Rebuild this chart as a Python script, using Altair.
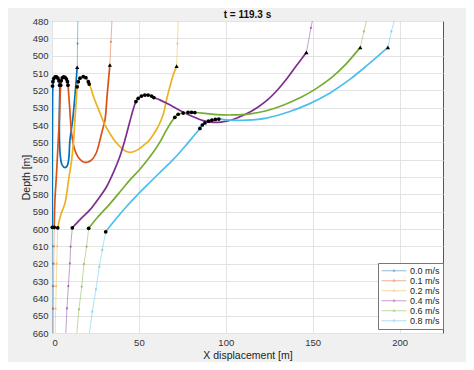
import altair as alt
import pandas as pd

series = ["0.0 m/s", "0.1 m/s", "0.2 m/s", "0.4 m/s", "0.6 m/s", "0.8 m/s"]
colors = ["#0072BD", "#D95319", "#EDB120", "#7E2F8E", "#77AC30", "#4DBEEE"]

# thin line: anchor (bottom) -> touchdown point
low_x = [
    [0.1, 0.1, 0.1, 0.2, 0.2, 0.2],
    [0.7, 0.8, 0.9, 1.0, 1.1, 1.3],
    [1.8, 2.1, 2.4, 2.7, 3.0, 3.3],
    [7.9, 8.6, 9.4, 10.3, 10.7, 11.7],
    [14.2, 15.5, 17.1, 18.4, 19.9, 21.1],
    [21.4, 23.2, 25.3, 27.2, 28.9, 30.9],
]
low_d = [
    [661, 646, 633, 620, 610, 599],
    [661, 646, 633, 620, 610, 599],
    [661, 646, 633, 620, 610, 599.3],
    [661, 645.8, 632.9, 619.8, 610.2, 599.3],
    [661, 646.4, 633.3, 620.2, 610.2, 599.6],
    [661, 647.7, 634.8, 621.8, 612.1, 601.6],
]

# thick line: touchdown -> floats -> sag -> hang-off
main_x = [
    [0.2, 0.2, 0.3, 0.5, 1.0, 1.8, 2.6, 3.4, 4.0, 4.4, 4.3, 4.3, 4.8, 5.8, 7.5, 8.8, 9.7, 10.3, 11.9, 13.3, 14.5],
    [1.3, 1.7, 2.5, 3.6, 4.2, 4.7, 5.0, 5.3, 5.9, 6.7, 7.5, 8.3, 8.9, 9.2, 9.6, 10.3, 11.3, 13.0, 15.0, 17.5, 20.3, 23.0, 25.5, 27.6, 29.0, 30.5, 31.8, 33.3],
    [3.3, 5.0, 7.5, 9.5, 11.3, 12.5, 13.2, 14.0, 14.5, 15.1, 16.1, 18.0, 19.5, 20.9, 21.4, 22.5, 24.0, 27.6, 30.0, 33.3, 36.0, 39.1, 42.0, 45.0, 48.0, 50.6, 53.0, 55.3, 58.0, 60.5, 62.0, 64.0, 66.0, 67.8, 69.8, 71.7],
    [11.7, 16.0, 21.8, 26.5, 31.4, 35.5, 39.1, 42.0, 44.8, 46.7, 48.3, 49.6, 51.5, 53.4, 55.3, 57.3, 58.6, 62.0, 66.0, 69.7, 75.0, 81.2, 87.0, 92.7, 98.0, 104.2, 111.0, 118.0, 124.0, 130.0, 135.0, 140.5, 146.4],
    [21.1, 26.0, 33.3, 40.0, 45.0, 50.6, 57.0, 62.0, 65.5, 68.5, 70.7, 72.6, 75.5, 78.3, 82.2, 88.0, 95.0, 104.2, 114.0, 123.4, 133.0, 143.0, 152.0, 161.0, 169.0, 177.4],
    [30.9, 36.5, 42.9, 48.5, 54.4, 62.0, 69.7, 76.0, 81.0, 85.1, 86.5, 88.0, 90.0, 92.0, 94.0, 96.0, 100.0, 105.0, 112.0, 123.4, 136.0, 148.0, 160.0, 171.0, 182.0, 193.3],
]
main_d = [
    [599, 560, 530, 518, 514, 512.2, 512.2, 513, 514.5, 517, 530, 548.7, 558, 563, 564.6, 563.5, 559, 549, 537, 522, 506.7],
    [599, 583, 570, 548.7, 537, 523, 517, 514.5, 512.8, 512.2, 512.5, 513.5, 515, 517, 522, 532, 545, 554, 558.5, 561, 561.5, 560, 556, 548.7, 543, 537, 522, 505.4],
    [599.3, 592, 585, 572, 560.2, 548, 537, 525, 518, 515, 513, 512.1, 512.7, 515, 516.4, 519, 524, 533, 539, 544.8, 549, 552.5, 554.8, 555.8, 555, 553.5, 551.5, 549.6, 546, 542, 539, 534, 525, 518, 511, 506],
    [599.3, 594.7, 589, 582.8, 575.6, 567, 558, 548.5, 538, 531, 526.5, 524.6, 523.3, 522.7, 522.7, 523.3, 524.2, 525.5, 527.5, 529.4, 532.3, 535.2, 537.5, 538.5, 538.2, 536.8, 534, 530, 525.5, 519.5, 513.5, 506, 498.1],
    [599.6, 593.5, 585.5, 577.5, 571.5, 565.5, 557.5, 550, 543.5, 538.5, 535.6, 533.8, 533.1, 532.7, 532.8, 533.3, 534, 534.2, 533.6, 531.8, 528.6, 524.2, 519, 512.5, 505, 495.2],
    [601.6, 594.5, 587, 581, 575, 567.5, 560, 553, 547, 542, 540, 538.8, 537.8, 537.2, 536.8, 536.6, 537, 537.3, 537.2, 536, 532.5, 527.8, 521.5, 514, 505, 495.2],
]

# black float markers on the buoyancy section
float_x = [
    [0.3, 0.5, 1.0, 1.8, 2.6, 3.4, 4.0, 4.4],
    [5.0, 5.3, 5.9, 6.7, 7.5, 8.3, 8.9, 9.2],
    [14.5, 15.1, 16.1, 18.0, 19.5, 20.9, 21.4],
    [48.3, 49.6, 51.5, 53.4, 55.3, 57.3, 58.6],
    [70.7, 72.6, 75.5, 78.3, 80.3, 82.2],
    [85.1, 86.5, 88.0, 90.0, 92.0, 94.0, 96.0],
]
float_d = [
    [517.5, 515, 513.2, 512.2, 512.2, 513, 514.5, 517],
    [517, 514.5, 512.8, 512.2, 512.5, 513.5, 515, 517],
    [518, 515, 513, 512.1, 512.7, 515, 516.4],
    [526.5, 524.6, 523.3, 522.7, 522.7, 523.3, 524.2],
    [535.6, 533.8, 533.1, 532.7, 532.7, 532.8],
    [542, 540, 538.8, 537.8, 537.2, 536.8, 536.6],
]

# thin line above the hang-off point
up_x = [
    [14.5, 14.7, 14.9],
    [33.3, 33.9, 34.6],
    [71.7, 72.2, 72.7],
    [146.4, 149.0, 150.2],
    [177.4, 179.5, 181.4],
    [193.3, 195.3, 197.4],
]
up_d = [
    [506.7, 493, 478],
    [505.4, 492, 478],
    [506, 493, 478],
    [498.1, 484, 478],
    [495.2, 486, 478],
    [495.2, 486, 478],
]

x_ticks = [0, 50, 100, 150, 200]
y_ticks = list(range(480, 661, 10))

rows = []
for i, s in enumerate(series):
    for k, (x, d) in enumerate(zip(low_x[i], low_d[i])):
        rows.append({"s": s, "part": "low", "k": k, "x": x, "d": d,
                     "tick": 0 < k < len(low_x[i]) - 1})
    for k, (x, d) in enumerate(zip(up_x[i], up_d[i])):
        rows.append({"s": s, "part": "up", "k": k, "x": x, "d": d,
                     "tick": 0 < k < len(up_x[i]) - 1})
    for k, (x, d) in enumerate(zip(main_x[i], main_d[i])):
        rows.append({"s": s, "part": "main", "k": k, "x": x, "d": d,
                     "tick": False})
    for k, (x, d) in enumerate(zip(float_x[i], float_d[i])):
        rows.append({"s": s, "part": "float", "k": k, "x": x, "d": d,
                     "tick": False})
    rows.append({"s": s, "part": "td", "k": 0, "x": main_x[i][0], "d": main_d[i][0], "tick": False})
    rows.append({"s": s, "part": "ho", "k": 0, "x": main_x[i][-1], "d": main_d[i][-1], "tick": False})

df = pd.DataFrame(rows)

font = "Liberation Sans"
xs = alt.X("x:Q", scale=alt.Scale(domain=[0, 225], nice=False, zero=False),
           axis=alt.Axis(values=x_ticks, title="X displacement [m]",
                         titlePadding=4, labelOverlap=False))
ys = alt.Y("d:Q", scale=alt.Scale(domain=[480, 660], reverse=True, nice=False, zero=False),
           axis=alt.Axis(values=y_ticks, title="Depth [m]",
                         titlePadding=1, labelOverlap=False))
cscale = alt.Scale(domain=series, range=colors)
col = alt.Color("s:N", scale=cscale,
                legend=alt.Legend(title=None, orient="none", legendX=326, legendY=242,
                                  symbolType="M-1,0L1,0M-0.08,0A0.08,0.08,0,1,1,0.08,0A0.08,0.08,0,1,1,-0.08,0",
                                  symbolSize=620, symbolStrokeWidth=1, symbolOpacity=0.45,
                                  clipHeight=9.5, rowPadding=0, labelFontSize=9,
                                  labelFont=font, labelColor="#222", labelOffset=3,
                                  strokeColor="#777", fillColor="white", padding=3))
col_nl = alt.Color("s:N", scale=cscale, legend=None)

base = alt.Chart(df)
thin = base.transform_filter(alt.FieldOneOfPredicate(field="part", oneOf=["low", "up"])).mark_line(
    strokeWidth=1, opacity=0.45, clip=True).encode(x=xs, y=ys, color=col, detail="part:N", order="k:Q")
ticks = base.transform_filter("datum.tick").mark_point(
    filled=True, size=5, opacity=0.6, clip=True).encode(x=xs, y=ys, color=col_nl)
thick = base.transform_filter(alt.datum.part == "main").mark_line(
    strokeWidth=1.7, clip=True, interpolate="catmull-rom").encode(
    x=xs, y=ys, color=col_nl, detail="s:N", order="k:Q")
floats = base.transform_filter(alt.datum.part == "float").mark_point(
    filled=True, size=14, color="black", opacity=1).encode(x=xs, y=ys)
td = base.transform_filter(alt.datum.part == "td").mark_point(
    filled=True, size=14, color="black", opacity=1).encode(x=xs, y=ys)
ho = base.transform_filter(alt.datum.part == "ho").mark_point(
    filled=True, size=18, shape="triangle-up", color="black", opacity=1).encode(x=xs, y=ys)

chart = alt.layer(thin, ticks, thick, floats, td, ho).properties(
    width=391, height=312,
    title=alt.Title("t = 119.3 s", fontSize=10, fontWeight="bold", font=font, color="#111",
                    offset=2, dy=6),
    autosize=alt.AutoSizeParams(type="none"),
    padding={"left": 44, "top": 13, "right": 23, "bottom": 29},
).configure(background="#f0f0f0").configure_view(
    fill="white", stroke="#555", strokeWidth=1
).configure_axis(
    labelFont=font, labelFontSize=9.5, labelColor="#333", titleFont=font, titleFontSize=10.5,
    titleFontWeight="normal", titleColor="#222", gridColor="#e3e3e3", ticks=False,
    domain=False, labelPadding=4
)

chart.save("out.html", embed_options={"renderer": "svg", "actions": False})
